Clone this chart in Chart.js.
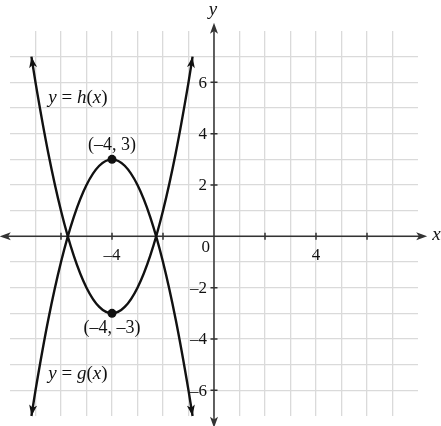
<!DOCTYPE html>
<html>
<head>
<meta charset="utf-8">
<script src="https://cdn.jsdelivr.net/npm/chart.js@4.4.0/dist/chart.umd.min.js"></script>
<style>
  html, body { margin: 0; padding: 0; background: #fff; }
  canvas { display: block; }
</style>
</head>
<body>
<canvas id="graph" width="441" height="426"></canvas>
<script>
// values
const curveX = [-7.16, -7, -6.5, -6, -5.5, -5, -4.5, -4, -3.5, -3, -2.5, -2, -1.5, -1, -0.84];
const hY = [7, 6, 3.25, 1, -0.75, -2, -2.75, -3, -2.75, -2, -0.75, 1, 3.25, 6, 7];
const gY = [-7, -6, -3.25, -1, 0.75, 2, 2.75, 3, 2.75, 2, 0.75, -1, -3.25, -6, -7];
const vertexX = [-4, -4];
const vertexY = [3, -3];
const xTickLabels = [-4, 4];
const yTickLabels = [6, 4, 2, -2, -4, -6];
const tickMarks = [-6, -4, -2, 2, 4, 6];

const serif = '"Liberation Serif", "DejaVu Serif", serif';
const ink = '#111';
const axisInk = '#333';
const gridInk = '#dadada';

const toPoints = (xs, ys) => xs.map((x, i) => ({ x: x, y: ys[i] }));
const dash = v => (v < 0 ? '\u2013' + Math.abs(v) : String(v));

function arrowHead(ctx, x, y, ang, len, half, color) {
  ctx.save();
  ctx.translate(x, y);
  ctx.rotate(ang);
  ctx.fillStyle = color;
  ctx.beginPath();
  ctx.moveTo(0, 0);
  ctx.lineTo(-len, -half);
  ctx.lineTo(-len * 0.75, 0);
  ctx.lineTo(-len, half);
  ctx.closePath();
  ctx.fill();
  ctx.restore();
}

// draw text made of italic / upright runs, centred or left aligned
function mathText(ctx, runs, x, y, size, align) {
  let total = 0;
  runs.forEach(r => {
    ctx.font = (r[1] ? 'italic ' : '') + size + 'px ' + serif;
    total += ctx.measureText(r[0]).width;
  });
  let cx = align === 'center' ? x - total / 2 : x;
  ctx.textAlign = 'left';
  ctx.textBaseline = 'middle';
  runs.forEach(r => {
    ctx.font = (r[1] ? 'italic ' : '') + size + 'px ' + serif;
    ctx.fillText(r[0], cx, y);
    cx += ctx.measureText(r[0]).width;
  });
}

const axesPlugin = {
  id: 'axes',
  beforeDatasetsDraw(chart) {
    const { ctx, scales: { x, y } } = chart;
    const x0 = x.getPixelForValue(0), y0 = y.getPixelForValue(0);
    const left = x.getPixelForValue(-8.4), right = x.getPixelForValue(8.36);
    const top = y.getPixelForValue(8.32), bottom = y.getPixelForValue(-7.46);
    ctx.save();
    ctx.strokeStyle = axisInk;
    ctx.lineWidth = 1.5;
    ctx.beginPath();
    ctx.moveTo(left + 4, y0); ctx.lineTo(right - 4, y0);
    ctx.moveTo(x0, top + 4); ctx.lineTo(x0, bottom - 4);
    tickMarks.forEach(v => {
      const px = x.getPixelForValue(v), py = y.getPixelForValue(v);
      ctx.moveTo(px, y0 - 3.5); ctx.lineTo(px, y0 + 3.5);
      ctx.moveTo(x0 - 3.5, py); ctx.lineTo(x0 + 3.5, py);
    });
    ctx.stroke();
    arrowHead(ctx, right, y0, 0, 11, 4, axisInk);
    arrowHead(ctx, left, y0, Math.PI, 11, 4, axisInk);
    arrowHead(ctx, x0, top, -Math.PI / 2, 11, 4, axisInk);
    arrowHead(ctx, x0, bottom, Math.PI / 2, 11, 4, axisInk);

    ctx.fillStyle = ink;
    ctx.textBaseline = 'middle';
    ctx.font = '17px ' + serif;
    ctx.textAlign = 'center';
    xTickLabels.forEach(v => ctx.fillText(dash(v), x.getPixelForValue(v), y0 + 19));
    ctx.textAlign = 'right';
    yTickLabels.forEach(v => ctx.fillText(dash(v), x0 - 7, y.getPixelForValue(v) + 1));
    ctx.fillText('0', x0 - 4, y0 + 11);
    mathText(ctx, [['x', true]], right + 5, y0 - 1, 19, 'left');
    mathText(ctx, [['y', true]], x0 - 1, top - 13, 19, 'center');
    ctx.restore();
  },
  afterDatasetsDraw(chart) {
    const { ctx, scales: { x, y } } = chart;
    ctx.save();
    // arrow heads at the curve ends
    [hY, gY].forEach(ys => {
      const n = curveX.length;
      [[0, 1], [n - 1, n - 2]].forEach(([a, b]) => {
        const ax = x.getPixelForValue(curveX[a]), ay = y.getPixelForValue(ys[a]);
        const bx = x.getPixelForValue(curveX[b]), by = y.getPixelForValue(ys[b]);
        arrowHead(ctx, ax, ay, Math.atan2(ay - by, ax - bx), 11, 4, ink);
      });
    });
    ctx.fillStyle = ink;
    mathText(ctx, [['(\u20134, 3)', false]], x.getPixelForValue(-4), y.getPixelForValue(3.55), 18, 'center');
    mathText(ctx, [['(\u20134, \u20133)', false]], x.getPixelForValue(-4), y.getPixelForValue(-3.6), 18, 'center');
    mathText(ctx, [['y', true], [' = ', false], ['h', true], ['(', false], ['x', true], [')', false]],
      x.getPixelForValue(-6.5), y.getPixelForValue(5.4), 19, 'left');
    mathText(ctx, [['y', true], [' = ', false], ['g', true], ['(', false], ['x', true], [')', false]],
      x.getPixelForValue(-6.5), y.getPixelForValue(-5.35), 19, 'left');
    ctx.restore();
  }
};

const curveStyle = {
  showLine: true,
  borderColor: ink,
  borderWidth: 2.4,
  pointRadius: 0,
  cubicInterpolationMode: 'monotone',
  clip: false
};

new Chart(document.getElementById('graph'), {
  type: 'scatter',
  data: {
    datasets: [
      Object.assign({ label: 'h', data: toPoints(curveX, hY) }, curveStyle),
      Object.assign({ label: 'g', data: toPoints(curveX, gY) }, curveStyle),
      {
        label: 'vertices',
        data: toPoints(vertexX, vertexY),
        showLine: false,
        pointRadius: 4.5,
        pointBackgroundColor: ink,
        pointBorderWidth: 0,
        clip: false
      }
    ]
  },
  options: {
    responsive: false,
    animation: false,
    events: [],
    layout: { padding: { left: 10, right: 23, top: 31, bottom: 10 } },
    plugins: { legend: { display: false }, tooltip: { enabled: false } },
    scales: {
      x: {
        type: 'linear', min: -8, max: 8,
        ticks: { display: false, stepSize: 1 },
        border: { display: false },
        grid: {
          drawTicks: false,
          lineWidth: 1.3,
          color: c => (Math.abs(c.tick.value) === 8 ? 'rgba(0,0,0,0)' : gridInk)
        }
      },
      y: {
        type: 'linear', min: -7, max: 8,
        ticks: { display: false, stepSize: 1 },
        border: { display: false },
        grid: {
          drawTicks: false,
          lineWidth: 1.3,
          color: c => (c.tick.value === 8 || c.tick.value === -7 ? 'rgba(0,0,0,0)' : gridInk)
        }
      }
    }
  },
  plugins: [axesPlugin]
});
</script>
</body>
</html>
